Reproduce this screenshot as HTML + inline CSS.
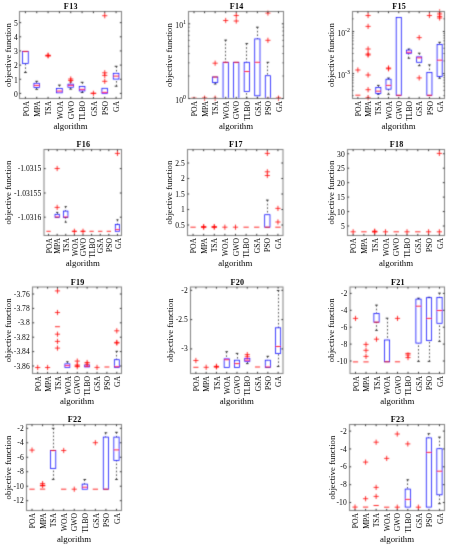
<!DOCTYPE html>
<html><head><meta charset="utf-8"><title>Boxplots F13-F23</title>
<style>
html,body{margin:0;padding:0;background:#fff;}
body{width:455px;height:550px;overflow:hidden;}
svg{display:block;}
text{font-family:"Liberation Serif",serif;fill:#000;}
.tl{font-size:7.6px;}
.ex{font-size:5.9px;}
.lb{font-size:8.8px;}
.tt{font-size:8.1px;font-weight:bold;fill:#000;letter-spacing:0.35px;}
.ax{fill:none;stroke:#808080;stroke-width:1;}
.tk{fill:none;stroke:#202020;stroke-width:1;}
.bx{fill:none;stroke:#0000ff;stroke-width:0.75;}
.md{stroke:#ff0000;stroke-width:0.85;}
.pl{fill:none;stroke:#ff0000;stroke-width:0.8;}
.wh{stroke:#383838;stroke-width:0.9;stroke-dasharray:1.6 2.0;}
.cap{stroke:#000;stroke-width:0.8;}
</style></head>
<body><svg width="455" height="550" viewBox="0 0 455 550">
<defs><filter id="sf" x="0" y="0" width="455" height="550" filterUnits="userSpaceOnUse"><feConvolveMatrix order="3" kernelMatrix="0.03 0.1 0.03 0.1 0.48 0.1 0.03 0.1 0.03" divisor="1" edgeMode="none"/></filter><filter id="tf" x="0" y="0" width="455" height="550" filterUnits="userSpaceOnUse"><feConvolveMatrix order="3" kernelMatrix="0 0.02 0 0.02 0.92 0.02 0 0.02 0" divisor="1" edgeMode="none"/></filter></defs>
<rect width="455" height="550" fill="#fff"/>
<g filter="url(#sf)"><line x1="25.5" y1="72.5" x2="25.5" y2="63.4" class="wh"/>
<line x1="24" y1="72.5" x2="26.83" y2="72.5" class="cap"/>
<rect x="22.58" y="51.4" width="5.67" height="12" class="bx"/>
<line x1="22.58" y1="51.4" x2="28.25" y2="51.4" class="md"/>
<line x1="36.5" y1="81.3" x2="36.5" y2="83.3" class="wh"/>
<line x1="35.33" y1="81.3" x2="38.17" y2="81.3" class="cap"/>
<line x1="36.5" y1="89.3" x2="36.5" y2="87.6" class="wh"/>
<line x1="35.33" y1="89.3" x2="38.17" y2="89.3" class="cap"/>
<rect x="33.92" y="83.3" width="5.67" height="4.3" class="bx"/>
<line x1="33.92" y1="85.4" x2="39.58" y2="85.4" class="md"/>
<line x1="45.25" y1="55.8" x2="50.92" y2="55.8" class="md"/>
<path d="M45.48 55.8h5.2M48.08 53.2v5.2" class="pl"/>
<path d="M45.48 55.2h5.2M48.08 52.6v5.2" class="pl"/>
<line x1="59.5" y1="85.1" x2="59.5" y2="88.6" class="wh"/>
<line x1="58" y1="85.1" x2="60.83" y2="85.1" class="cap"/>
<rect x="56.58" y="88.6" width="5.67" height="4.2" class="bx"/>
<line x1="56.58" y1="91.1" x2="62.25" y2="91.1" class="md"/>
<line x1="70.5" y1="82" x2="70.5" y2="84.2" class="wh"/>
<line x1="69.33" y1="82" x2="72.17" y2="82" class="cap"/>
<line x1="70.5" y1="89.1" x2="70.5" y2="87.2" class="wh"/>
<line x1="69.33" y1="89.1" x2="72.17" y2="89.1" class="cap"/>
<rect x="67.92" y="84.2" width="5.67" height="3" class="bx"/>
<line x1="67.92" y1="85.4" x2="73.58" y2="85.4" class="md"/>
<path d="M68.15 79h5.2M70.75 76.4v5.2" class="pl"/>
<path d="M68.15 80.5h5.2M70.75 77.9v5.2" class="pl"/>
<line x1="82.5" y1="82.3" x2="82.5" y2="86.6" class="wh"/>
<line x1="80.67" y1="82.3" x2="83.5" y2="82.3" class="cap"/>
<line x1="82.5" y1="92.5" x2="82.5" y2="90.9" class="wh"/>
<line x1="80.67" y1="92.5" x2="83.5" y2="92.5" class="cap"/>
<rect x="79.25" y="86.6" width="5.67" height="4.3" class="bx"/>
<line x1="79.25" y1="89.4" x2="84.92" y2="89.4" class="md"/>
<line x1="90.58" y1="93.3" x2="96.25" y2="93.3" class="md"/>
<path d="M90.82 93.3h5.2M93.42 90.7v5.2" class="pl"/>
<rect x="101.92" y="88.3" width="5.67" height="5.1" class="bx"/>
<line x1="101.92" y1="92.4" x2="107.58" y2="92.4" class="md"/>
<path d="M102.15 15.7h5.2M104.75 13.1v5.2" class="pl"/>
<path d="M102.15 72.8h5.2M104.75 70.2v5.2" class="pl"/>
<path d="M102.15 75.4h5.2M104.75 72.8v5.2" class="pl"/>
<path d="M102.15 81.3h5.2M104.75 78.7v5.2" class="pl"/>
<line x1="116.5" y1="66.3" x2="116.5" y2="73.3" class="wh"/>
<line x1="114.67" y1="66.3" x2="117.5" y2="66.3" class="cap"/>
<line x1="116.5" y1="86.2" x2="116.5" y2="79.1" class="wh"/>
<line x1="114.67" y1="86.2" x2="117.5" y2="86.2" class="cap"/>
<rect x="113.25" y="73.3" width="5.67" height="5.8" class="bx"/>
<line x1="113.25" y1="76.1" x2="118.92" y2="76.1" class="md"/>
<rect x="19.5" y="11.5" width="102" height="87" class="ax"/>
<path d="M25.42 11.5v1.6M25.42 98.5v-1.6M36.75 11.5v1.6M36.75 98.5v-1.6M48.08 11.5v1.6M48.08 98.5v-1.6M59.42 11.5v1.6M59.42 98.5v-1.6M70.75 11.5v1.6M70.75 98.5v-1.6M82.08 11.5v1.6M82.08 98.5v-1.6M93.42 11.5v1.6M93.42 98.5v-1.6M104.75 11.5v1.6M104.75 98.5v-1.6M116.08 11.5v1.6M116.08 98.5v-1.6M19.5 93.4h1.6M121.5 93.4h-1.6M19.5 79.25h1.6M121.5 79.25h-1.6M19.5 65.1h1.6M121.5 65.1h-1.6M19.5 50.95h1.6M121.5 50.95h-1.6M19.5 36.8h1.6M121.5 36.8h-1.6M19.5 22.65h1.6M121.5 22.65h-1.6" class="tk"/>
<line x1="191.39" y1="98" x2="196.67" y2="98" class="md"/>
<line x1="201.94" y1="98" x2="207.22" y2="98" class="md"/>
<path d="M201.98 98.2h5.2M204.58 95.6v5.2" class="pl"/>
<line x1="215.5" y1="84" x2="215.5" y2="82.4" class="wh"/>
<line x1="213.82" y1="84" x2="216.46" y2="84" class="cap"/>
<rect x="212.5" y="77" width="5.28" height="5.4" class="bx"/>
<line x1="212.5" y1="77" x2="217.78" y2="77" class="md"/>
<path d="M212.54 63.2h5.2M215.14 60.6v5.2" class="pl"/>
<path d="M212.54 98.2h5.2M215.14 95.6v5.2" class="pl"/>
<line x1="225.5" y1="40.1" x2="225.5" y2="62.3" class="wh"/>
<line x1="224.38" y1="40.1" x2="227.01" y2="40.1" class="cap"/>
<rect x="223.06" y="62.3" width="5.28" height="36" class="bx"/>
<line x1="223.06" y1="62.3" x2="228.33" y2="62.3" class="md"/>
<path d="M223.09 20.5h5.2M225.69 17.9v5.2" class="pl"/>
<rect x="233.61" y="62.3" width="5.28" height="36" class="bx"/>
<line x1="233.61" y1="62.3" x2="238.89" y2="62.3" class="md"/>
<path d="M233.65 15.5h5.2M236.25 12.9v5.2" class="pl"/>
<path d="M233.65 21h5.2M236.25 18.4v5.2" class="pl"/>
<line x1="246.5" y1="43.6" x2="246.5" y2="62.3" class="wh"/>
<line x1="245.49" y1="43.6" x2="248.12" y2="43.6" class="cap"/>
<line x1="246.5" y1="98.3" x2="246.5" y2="91.6" class="wh"/>
<line x1="245.49" y1="98.3" x2="248.12" y2="98.3" class="cap"/>
<rect x="244.17" y="62.3" width="5.28" height="29.3" class="bx"/>
<line x1="244.17" y1="71.5" x2="249.44" y2="71.5" class="md"/>
<line x1="257.5" y1="27.2" x2="257.5" y2="38.9" class="wh"/>
<line x1="256.04" y1="27.2" x2="258.68" y2="27.2" class="cap"/>
<line x1="257.5" y1="98.3" x2="257.5" y2="95.8" class="wh"/>
<line x1="256.04" y1="98.3" x2="258.68" y2="98.3" class="cap"/>
<rect x="254.72" y="38.9" width="5.28" height="56.9" class="bx"/>
<line x1="254.72" y1="62.3" x2="260" y2="62.3" class="md"/>
<line x1="267.5" y1="62.3" x2="267.5" y2="75.7" class="wh"/>
<line x1="266.6" y1="62.3" x2="269.24" y2="62.3" class="cap"/>
<rect x="265.28" y="75.7" width="5.28" height="22.6" class="bx"/>
<line x1="265.28" y1="98.3" x2="270.56" y2="98.3" class="md"/>
<path d="M265.32 13h5.2M267.92 10.4v5.2" class="pl"/>
<path d="M265.32 40.3h5.2M267.92 37.7v5.2" class="pl"/>
<line x1="275.83" y1="98" x2="281.11" y2="98" class="md"/>
<path d="M275.87 98.2h5.2M278.47 95.6v5.2" class="pl"/>
<rect x="188.5" y="11.5" width="95" height="87" class="ax"/>
<path d="M194.03 11.5v1.6M194.03 98.5v-1.6M204.58 11.5v1.6M204.58 98.5v-1.6M215.14 11.5v1.6M215.14 98.5v-1.6M225.69 11.5v1.6M225.69 98.5v-1.6M236.25 11.5v1.6M236.25 98.5v-1.6M246.81 11.5v1.6M246.81 98.5v-1.6M257.36 11.5v1.6M257.36 98.5v-1.6M267.92 11.5v1.6M267.92 98.5v-1.6M278.47 11.5v1.6M278.47 98.5v-1.6M188.5 98.5h1.6M283.5 98.5h-1.6M188.5 23.8h1.6M283.5 23.8h-1.6M188.5 76.01h0.96M283.5 76.01h-0.96M188.5 62.86h0.96M283.5 62.86h-0.96M188.5 53.53h0.96M283.5 53.53h-0.96M188.5 46.29h0.96M283.5 46.29h-0.96M188.5 40.37h0.96M283.5 40.37h-0.96M188.5 35.37h0.96M283.5 35.37h-0.96M188.5 31.04h0.96M283.5 31.04h-0.96M188.5 27.22h0.96M283.5 27.22h-0.96" class="tk"/>
<line x1="355.31" y1="95.2" x2="360.42" y2="95.2" class="md"/>
<path d="M355.26 70h5.2M357.86 67.4v5.2" class="pl"/>
<path d="M365.48 15.5h5.2M368.08 12.9v5.2" class="pl"/>
<path d="M365.48 26.4h5.2M368.08 23.8v5.2" class="pl"/>
<path d="M365.48 49h5.2M368.08 46.4v5.2" class="pl"/>
<path d="M365.48 54h5.2M368.08 51.4v5.2" class="pl"/>
<path d="M365.48 55h5.2M368.08 52.4v5.2" class="pl"/>
<path d="M365.48 75h5.2M368.08 72.4v5.2" class="pl"/>
<path d="M365.48 89.7h5.2M368.08 87.1v5.2" class="pl"/>
<path d="M365.48 97.6h5.2M368.08 95v5.2" class="pl"/>
<line x1="378.5" y1="85.4" x2="378.5" y2="87.6" class="wh"/>
<line x1="377.03" y1="85.4" x2="379.58" y2="85.4" class="cap"/>
<line x1="378.5" y1="94.3" x2="378.5" y2="93.4" class="wh"/>
<line x1="377.03" y1="94.3" x2="379.58" y2="94.3" class="cap"/>
<rect x="375.75" y="87.6" width="5.11" height="5.8" class="bx"/>
<line x1="375.75" y1="91.2" x2="380.86" y2="91.2" class="md"/>
<line x1="388.5" y1="78" x2="388.5" y2="79.2" class="wh"/>
<line x1="387.25" y1="78" x2="389.81" y2="78" class="cap"/>
<line x1="388.5" y1="94.3" x2="388.5" y2="89.2" class="wh"/>
<line x1="387.25" y1="94.3" x2="389.81" y2="94.3" class="cap"/>
<rect x="385.97" y="79.2" width="5.11" height="10" class="bx"/>
<line x1="385.97" y1="85.4" x2="391.08" y2="85.4" class="md"/>
<path d="M385.93 68h5.2M388.53 65.4v5.2" class="pl"/>
<path d="M385.93 68.8h5.2M388.53 66.2v5.2" class="pl"/>
<rect x="396.19" y="17.5" width="5.11" height="77.8" class="bx"/>
<line x1="396.19" y1="95.3" x2="401.31" y2="95.3" class="md"/>
<line x1="408.5" y1="49" x2="408.5" y2="50.1" class="wh"/>
<line x1="407.69" y1="49" x2="410.25" y2="49" class="cap"/>
<line x1="408.5" y1="58.2" x2="408.5" y2="53.5" class="wh"/>
<line x1="407.69" y1="58.2" x2="410.25" y2="58.2" class="cap"/>
<rect x="406.42" y="50.1" width="5.11" height="3.4" class="bx"/>
<line x1="406.42" y1="52.3" x2="411.53" y2="52.3" class="md"/>
<line x1="419.5" y1="53.2" x2="419.5" y2="56.8" class="wh"/>
<line x1="417.92" y1="53.2" x2="420.47" y2="53.2" class="cap"/>
<line x1="419.5" y1="65.7" x2="419.5" y2="62.3" class="wh"/>
<line x1="417.92" y1="65.7" x2="420.47" y2="65.7" class="cap"/>
<rect x="416.64" y="56.8" width="5.11" height="5.5" class="bx"/>
<line x1="416.64" y1="57.8" x2="421.75" y2="57.8" class="md"/>
<path d="M416.59 37.6h5.2M419.19 35v5.2" class="pl"/>
<path d="M416.59 77.9h5.2M419.19 75.3v5.2" class="pl"/>
<line x1="429.5" y1="64.9" x2="429.5" y2="72.4" class="wh"/>
<line x1="428.14" y1="64.9" x2="430.69" y2="64.9" class="cap"/>
<rect x="426.86" y="72.4" width="5.11" height="22.9" class="bx"/>
<line x1="426.86" y1="95.3" x2="431.97" y2="95.3" class="md"/>
<path d="M426.82 15.5h5.2M429.42 12.9v5.2" class="pl"/>
<line x1="439.5" y1="42.3" x2="439.5" y2="44.5" class="wh"/>
<line x1="438.36" y1="42.3" x2="440.92" y2="42.3" class="cap"/>
<line x1="439.5" y1="78.2" x2="439.5" y2="76.6" class="wh"/>
<line x1="438.36" y1="78.2" x2="440.92" y2="78.2" class="cap"/>
<rect x="437.08" y="44.5" width="5.11" height="32.1" class="bx"/>
<line x1="437.08" y1="60.2" x2="442.19" y2="60.2" class="md"/>
<path d="M437.04 11.9h5.2M439.64 9.3v5.2" class="pl"/>
<path d="M437.04 14h5.2M439.64 11.4v5.2" class="pl"/>
<path d="M437.04 16.4h5.2M439.64 13.8v5.2" class="pl"/>
<path d="M437.04 18h5.2M439.64 15.4v5.2" class="pl"/>
<rect x="352.5" y="11.5" width="92" height="87" class="ax"/>
<path d="M357.86 11.5v1.6M357.86 98.5v-1.6M368.08 11.5v1.6M368.08 98.5v-1.6M378.31 11.5v1.6M378.31 98.5v-1.6M388.53 11.5v1.6M388.53 98.5v-1.6M398.75 11.5v1.6M398.75 98.5v-1.6M408.97 11.5v1.6M408.97 98.5v-1.6M419.19 11.5v1.6M419.19 98.5v-1.6M429.42 11.5v1.6M429.42 98.5v-1.6M439.64 11.5v1.6M439.64 98.5v-1.6M352.5 31.5h1.6M444.5 31.5h-1.6M352.5 73.6h1.6M444.5 73.6h-1.6M352.5 95.61h0.96M444.5 95.61h-0.96M352.5 90.35h0.96M444.5 90.35h-0.96M352.5 86.27h0.96M444.5 86.27h-0.96M352.5 82.94h0.96M444.5 82.94h-0.96M352.5 80.12h0.96M444.5 80.12h-0.96M352.5 77.68h0.96M444.5 77.68h-0.96M352.5 75.53h0.96M444.5 75.53h-0.96M352.5 60.93h0.96M444.5 60.93h-0.96M352.5 53.51h0.96M444.5 53.51h-0.96M352.5 48.25h0.96M444.5 48.25h-0.96M352.5 44.17h0.96M444.5 44.17h-0.96M352.5 40.84h0.96M444.5 40.84h-0.96M352.5 38.02h0.96M444.5 38.02h-0.96M352.5 35.58h0.96M444.5 35.58h-0.96M352.5 33.43h0.96M444.5 33.43h-0.96M352.5 18.83h0.96M444.5 18.83h-0.96" class="tk"/>
<line x1="46.4" y1="231.3" x2="50.71" y2="231.3" class="md"/>
<path d="M54.57 168.5h5.2M57.17 165.9v5.2" class="pl"/>
<path d="M54.57 207.4h5.2M57.17 204.8v5.2" class="pl"/>
<line x1="57.5" y1="212.4" x2="57.5" y2="214.3" class="wh"/>
<line x1="56.09" y1="212.4" x2="58.24" y2="212.4" class="cap"/>
<rect x="55.01" y="214.3" width="4.31" height="3.1" class="bx"/>
<line x1="55.01" y1="217" x2="59.32" y2="217" class="md"/>
<line x1="65.5" y1="206.6" x2="65.5" y2="211.1" class="wh"/>
<line x1="64.7" y1="206.6" x2="66.85" y2="206.6" class="cap"/>
<line x1="65.5" y1="222.2" x2="65.5" y2="217.4" class="wh"/>
<line x1="64.7" y1="222.2" x2="66.85" y2="222.2" class="cap"/>
<rect x="63.62" y="211.1" width="4.31" height="6.3" class="bx"/>
<line x1="63.62" y1="217" x2="67.93" y2="217" class="md"/>
<path d="M71.79 231.3h5.2M74.39 228.7v5.2" class="pl"/>
<line x1="72.24" y1="231.3" x2="76.54" y2="231.3" class="md"/>
<path d="M80.4 231.3h5.2M83 228.7v5.2" class="pl"/>
<line x1="80.85" y1="231.3" x2="85.15" y2="231.3" class="md"/>
<line x1="89.46" y1="231.3" x2="93.76" y2="231.3" class="md"/>
<line x1="98.07" y1="231.3" x2="102.38" y2="231.3" class="md"/>
<line x1="106.68" y1="231.3" x2="110.99" y2="231.3" class="md"/>
<line x1="117.5" y1="219.8" x2="117.5" y2="224.5" class="wh"/>
<line x1="116.37" y1="219.8" x2="118.52" y2="219.8" class="cap"/>
<rect x="115.29" y="224.5" width="4.31" height="6.8" class="bx"/>
<line x1="115.29" y1="229.6" x2="119.6" y2="229.6" class="md"/>
<path d="M114.84 153.4h5.2M117.44 150.8v5.2" class="pl"/>
<rect x="44" y="149.5" width="77.5" height="86" class="ax"/>
<path d="M48.56 149.5v1.6M48.56 235.5v-1.6M57.17 149.5v1.6M57.17 235.5v-1.6M65.78 149.5v1.6M65.78 235.5v-1.6M74.39 149.5v1.6M74.39 235.5v-1.6M83 149.5v1.6M83 235.5v-1.6M91.61 149.5v1.6M91.61 235.5v-1.6M100.22 149.5v1.6M100.22 235.5v-1.6M108.83 149.5v1.6M108.83 235.5v-1.6M117.44 149.5v1.6M117.44 235.5v-1.6M44 168.6h1.6M121.5 168.6h-1.6M44 193h1.6M121.5 193h-1.6M44 217.2h1.6M121.5 217.2h-1.6" class="tk"/>
<line x1="190.4" y1="227.2" x2="195.71" y2="227.2" class="md"/>
<line x1="201.01" y1="227.2" x2="206.32" y2="227.2" class="md"/>
<path d="M201.07 227.2h5.2M203.67 224.6v5.2" class="pl"/>
<path d="M201.07 226.6h5.2M203.67 224v5.2" class="pl"/>
<line x1="211.62" y1="227.2" x2="216.93" y2="227.2" class="md"/>
<path d="M211.68 227.2h5.2M214.28 224.6v5.2" class="pl"/>
<path d="M211.68 226.6h5.2M214.28 224v5.2" class="pl"/>
<path d="M222.29 227.2h5.2M224.89 224.6v5.2" class="pl"/>
<path d="M232.9 227.2h5.2M235.5 224.6v5.2" class="pl"/>
<line x1="243.46" y1="227.2" x2="248.76" y2="227.2" class="md"/>
<line x1="254.07" y1="227.2" x2="259.38" y2="227.2" class="md"/>
<line x1="267.5" y1="200.1" x2="267.5" y2="214.7" class="wh"/>
<line x1="266.01" y1="200.1" x2="268.66" y2="200.1" class="cap"/>
<rect x="264.68" y="214.7" width="5.31" height="12.5" class="bx"/>
<line x1="264.68" y1="227.2" x2="269.99" y2="227.2" class="md"/>
<path d="M264.73 153.4h5.2M267.33 150.8v5.2" class="pl"/>
<path d="M264.73 171.8h5.2M267.33 169.2v5.2" class="pl"/>
<path d="M264.73 175.5h5.2M267.33 172.9v5.2" class="pl"/>
<line x1="275.29" y1="227.2" x2="280.6" y2="227.2" class="md"/>
<path d="M275.34 208.4h5.2M277.94 205.8v5.2" class="pl"/>
<path d="M275.34 222h5.2M277.94 219.4v5.2" class="pl"/>
<rect x="187.5" y="149.5" width="95.5" height="86" class="ax"/>
<path d="M193.06 149.5v1.6M193.06 235.5v-1.6M203.67 149.5v1.6M203.67 235.5v-1.6M214.28 149.5v1.6M214.28 235.5v-1.6M224.89 149.5v1.6M224.89 235.5v-1.6M235.5 149.5v1.6M235.5 235.5v-1.6M246.11 149.5v1.6M246.11 235.5v-1.6M256.72 149.5v1.6M256.72 235.5v-1.6M267.33 149.5v1.6M267.33 235.5v-1.6M277.94 149.5v1.6M277.94 235.5v-1.6M187.5 225h1.6M283 225h-1.6M187.5 209.5h1.6M283 209.5h-1.6M187.5 194h1.6M283 194h-1.6M187.5 178.5h1.6M283 178.5h-1.6M187.5 163h1.6M283 163h-1.6" class="tk"/>
<path d="M350.54 231.8h5.2M353.14 229.2v5.2" class="pl"/>
<line x1="361.22" y1="231.8" x2="366.61" y2="231.8" class="md"/>
<line x1="372" y1="231.8" x2="377.39" y2="231.8" class="md"/>
<path d="M372.09 231.8h5.2M374.69 229.2v5.2" class="pl"/>
<path d="M372.09 231.2h5.2M374.69 228.6v5.2" class="pl"/>
<path d="M382.87 231.8h5.2M385.47 229.2v5.2" class="pl"/>
<line x1="393.56" y1="231.8" x2="398.94" y2="231.8" class="md"/>
<path d="M404.43 231.8h5.2M407.03 229.2v5.2" class="pl"/>
<line x1="415.11" y1="231.8" x2="420.5" y2="231.8" class="md"/>
<path d="M425.98 231.8h5.2M428.58 229.2v5.2" class="pl"/>
<path d="M436.76 231.8h5.2M439.36 229.2v5.2" class="pl"/>
<path d="M436.76 153.4h5.2M439.36 150.8v5.2" class="pl"/>
<rect x="347.5" y="149.5" width="97" height="86" class="ax"/>
<path d="M353.14 149.5v1.6M353.14 235.5v-1.6M363.92 149.5v1.6M363.92 235.5v-1.6M374.69 149.5v1.6M374.69 235.5v-1.6M385.47 149.5v1.6M385.47 235.5v-1.6M396.25 149.5v1.6M396.25 235.5v-1.6M407.03 149.5v1.6M407.03 235.5v-1.6M417.81 149.5v1.6M417.81 235.5v-1.6M428.58 149.5v1.6M428.58 235.5v-1.6M439.36 149.5v1.6M439.36 235.5v-1.6M347.5 226h1.6M444.5 226h-1.6M347.5 211.55h1.6M444.5 211.55h-1.6M347.5 197.1h1.6M444.5 197.1h-1.6M347.5 182.65h1.6M444.5 182.65h-1.6M347.5 168.2h1.6M444.5 168.2h-1.6M347.5 153.75h1.6M444.5 153.75h-1.6" class="tk"/>
<path d="M35.09 367.5h5.2M37.69 364.9v5.2" class="pl"/>
<path d="M44.98 367.5h5.2M47.58 364.9v5.2" class="pl"/>
<path d="M54.87 290.9h5.2M57.47 288.3v5.2" class="pl"/>
<path d="M54.87 312.5h5.2M57.47 309.9v5.2" class="pl"/>
<line x1="55" y1="326.7" x2="59.94" y2="326.7" class="md"/>
<path d="M54.87 334.2h5.2M57.47 331.6v5.2" class="pl"/>
<path d="M54.87 341.4h5.2M57.47 338.8v5.2" class="pl"/>
<path d="M54.87 348.1h5.2M57.47 345.5v5.2" class="pl"/>
<line x1="67.5" y1="361.8" x2="67.5" y2="363.9" class="wh"/>
<line x1="66.12" y1="361.8" x2="68.6" y2="361.8" class="cap"/>
<rect x="64.89" y="363.9" width="4.94" height="3.5" class="bx"/>
<line x1="64.89" y1="365.6" x2="69.83" y2="365.6" class="md"/>
<path d="M74.65 361.1h5.2M77.25 358.5v5.2" class="pl"/>
<path d="M74.65 365h5.2M77.25 362.4v5.2" class="pl"/>
<path d="M74.65 366.7h5.2M77.25 364.1v5.2" class="pl"/>
<line x1="74.78" y1="366" x2="79.72" y2="366" class="md"/>
<rect x="84.67" y="365" width="4.94" height="2" class="bx"/>
<line x1="84.67" y1="366.4" x2="89.61" y2="366.4" class="md"/>
<path d="M84.54 362.5h5.2M87.14 359.9v5.2" class="pl"/>
<path d="M84.54 364.2h5.2M87.14 361.6v5.2" class="pl"/>
<path d="M94.43 367.4h5.2M97.03 364.8v5.2" class="pl"/>
<line x1="104.44" y1="367" x2="109.39" y2="367" class="md"/>
<line x1="116.5" y1="351.3" x2="116.5" y2="359.7" class="wh"/>
<line x1="115.57" y1="351.3" x2="118.04" y2="351.3" class="cap"/>
<rect x="114.33" y="359.7" width="4.94" height="7.7" class="bx"/>
<line x1="114.33" y1="366.7" x2="119.28" y2="366.7" class="md"/>
<path d="M114.21 330.8h5.2M116.81 328.2v5.2" class="pl"/>
<path d="M114.21 342.4h5.2M116.81 339.8v5.2" class="pl"/>
<path d="M114.21 343h5.2M116.81 340.4v5.2" class="pl"/>
<rect x="32.5" y="287" width="89" height="86.5" class="ax"/>
<path d="M37.69 287v1.6M37.69 373.5v-1.6M47.58 287v1.6M47.58 373.5v-1.6M57.47 287v1.6M57.47 373.5v-1.6M67.36 287v1.6M67.36 373.5v-1.6M77.25 287v1.6M77.25 373.5v-1.6M87.14 287v1.6M87.14 373.5v-1.6M97.03 287v1.6M97.03 373.5v-1.6M106.92 287v1.6M106.92 373.5v-1.6M116.81 287v1.6M116.81 373.5v-1.6M32.5 294h1.6M121.5 294h-1.6M32.5 308.4h1.6M121.5 308.4h-1.6M32.5 322.8h1.6M121.5 322.8h-1.6M32.5 337.2h1.6M121.5 337.2h-1.6M32.5 351.6h1.6M121.5 351.6h-1.6M32.5 366h1.6M121.5 366h-1.6" class="tk"/>
<path d="M193.29 360.5h5.2M195.89 357.9v5.2" class="pl"/>
<line x1="193.32" y1="367.3" x2="198.46" y2="367.3" class="md"/>
<path d="M203.57 367.3h5.2M206.17 364.7v5.2" class="pl"/>
<line x1="213.88" y1="366.9" x2="219.01" y2="366.9" class="md"/>
<path d="M213.84 366.9h5.2M216.44 364.3v5.2" class="pl"/>
<path d="M213.84 366.3h5.2M216.44 363.7v5.2" class="pl"/>
<line x1="226.5" y1="351.7" x2="226.5" y2="358.8" class="wh"/>
<line x1="225.44" y1="351.7" x2="228.01" y2="351.7" class="cap"/>
<rect x="224.15" y="358.8" width="5.14" height="8.6" class="bx"/>
<line x1="224.15" y1="359.7" x2="229.29" y2="359.7" class="md"/>
<line x1="237.5" y1="353.4" x2="237.5" y2="360.2" class="wh"/>
<line x1="235.72" y1="353.4" x2="238.28" y2="353.4" class="cap"/>
<rect x="234.43" y="360.2" width="5.14" height="7.2" class="bx"/>
<line x1="234.43" y1="363.6" x2="239.57" y2="363.6" class="md"/>
<line x1="247.5" y1="363.6" x2="247.5" y2="361.4" class="wh"/>
<line x1="245.99" y1="363.6" x2="248.56" y2="363.6" class="cap"/>
<rect x="244.71" y="358.5" width="5.14" height="2.9" class="bx"/>
<line x1="244.71" y1="360.2" x2="249.85" y2="360.2" class="md"/>
<path d="M244.68 354.6h5.2M247.28 352v5.2" class="pl"/>
<path d="M244.68 356.8h5.2M247.28 354.2v5.2" class="pl"/>
<line x1="254.99" y1="367" x2="260.12" y2="367" class="md"/>
<line x1="267.5" y1="356.3" x2="267.5" y2="360.2" class="wh"/>
<line x1="266.55" y1="356.3" x2="269.12" y2="356.3" class="cap"/>
<rect x="265.26" y="360.2" width="5.14" height="7.2" class="bx"/>
<line x1="265.26" y1="367" x2="270.4" y2="367" class="md"/>
<line x1="278.5" y1="290.5" x2="278.5" y2="327.8" class="wh"/>
<line x1="276.83" y1="290.5" x2="279.4" y2="290.5" class="cap"/>
<line x1="278.5" y1="366.5" x2="278.5" y2="353.4" class="wh"/>
<line x1="276.83" y1="366.5" x2="279.4" y2="366.5" class="cap"/>
<rect x="275.54" y="327.8" width="5.14" height="25.6" class="bx"/>
<line x1="275.54" y1="346.5" x2="280.68" y2="346.5" class="md"/>
<rect x="190.5" y="287" width="92.5" height="86.5" class="ax"/>
<path d="M195.89 287v1.6M195.89 373.5v-1.6M206.17 287v1.6M206.17 373.5v-1.6M216.44 287v1.6M216.44 373.5v-1.6M226.72 287v1.6M226.72 373.5v-1.6M237 287v1.6M237 373.5v-1.6M247.28 287v1.6M247.28 373.5v-1.6M257.56 287v1.6M257.56 373.5v-1.6M267.83 287v1.6M267.83 373.5v-1.6M278.11 287v1.6M278.11 373.5v-1.6M190.5 290.3h1.6M283 290.3h-1.6M190.5 319.6h1.6M283 319.6h-1.6M190.5 348.9h1.6M283 348.9h-1.6" class="tk"/>
<path d="M352.9 318.4h5.2M355.5 315.8v5.2" class="pl"/>
<line x1="352.88" y1="361.9" x2="358.12" y2="361.9" class="md"/>
<path d="M363.4 344.4h5.2M366 341.8v5.2" class="pl"/>
<path d="M363.4 350.3h5.2M366 347.7v5.2" class="pl"/>
<path d="M363.4 356.4h5.2M366 353.8v5.2" class="pl"/>
<line x1="363.38" y1="361.9" x2="368.62" y2="361.9" class="md"/>
<line x1="376.5" y1="305.1" x2="376.5" y2="313.4" class="wh"/>
<line x1="375.19" y1="305.1" x2="377.81" y2="305.1" class="cap"/>
<line x1="376.5" y1="330.4" x2="376.5" y2="322.2" class="wh"/>
<line x1="375.19" y1="330.4" x2="377.81" y2="330.4" class="cap"/>
<rect x="373.88" y="313.4" width="5.25" height="8.8" class="bx"/>
<line x1="373.88" y1="322.2" x2="379.12" y2="322.2" class="md"/>
<path d="M373.9 339.2h5.2M376.5 336.6v5.2" class="pl"/>
<line x1="387.5" y1="318.2" x2="387.5" y2="340" class="wh"/>
<line x1="385.69" y1="318.2" x2="388.31" y2="318.2" class="cap"/>
<rect x="384.38" y="340" width="5.25" height="21.8" class="bx"/>
<line x1="384.38" y1="361.8" x2="389.62" y2="361.8" class="md"/>
<path d="M394.9 318.4h5.2M397.5 315.8v5.2" class="pl"/>
<line x1="394.88" y1="361.8" x2="400.12" y2="361.8" class="md"/>
<line x1="405.38" y1="353.4" x2="410.62" y2="353.4" class="md"/>
<path d="M405.4 355h5.2M408 352.4v5.2" class="pl"/>
<path d="M405.4 357.6h5.2M408 355v5.2" class="pl"/>
<line x1="418.5" y1="298.2" x2="418.5" y2="299.1" class="wh"/>
<line x1="417.19" y1="298.2" x2="419.81" y2="298.2" class="cap"/>
<line x1="418.5" y1="361.4" x2="418.5" y2="343.1" class="wh"/>
<line x1="417.19" y1="361.4" x2="419.81" y2="361.4" class="cap"/>
<rect x="415.88" y="299.1" width="5.25" height="44" class="bx"/>
<line x1="415.88" y1="306.2" x2="421.12" y2="306.2" class="md"/>
<line x1="429.5" y1="297.3" x2="429.5" y2="297.7" class="wh"/>
<line x1="427.69" y1="297.3" x2="430.31" y2="297.3" class="cap"/>
<line x1="429.5" y1="361.4" x2="429.5" y2="340.4" class="wh"/>
<line x1="427.69" y1="361.4" x2="430.31" y2="361.4" class="cap"/>
<rect x="426.38" y="297.7" width="5.25" height="42.7" class="bx"/>
<line x1="426.38" y1="318.4" x2="431.62" y2="318.4" class="md"/>
<line x1="439.5" y1="293.1" x2="439.5" y2="297.4" class="wh"/>
<line x1="438.19" y1="293.1" x2="440.81" y2="293.1" class="cap"/>
<line x1="439.5" y1="341.4" x2="439.5" y2="323.3" class="wh"/>
<line x1="438.19" y1="341.4" x2="440.81" y2="341.4" class="cap"/>
<rect x="436.88" y="297.4" width="5.25" height="25.9" class="bx"/>
<line x1="436.88" y1="310.5" x2="442.12" y2="310.5" class="md"/>
<rect x="350" y="287" width="94.5" height="86.5" class="ax"/>
<path d="M355.5 287v1.6M355.5 373.5v-1.6M366 287v1.6M366 373.5v-1.6M376.5 287v1.6M376.5 373.5v-1.6M387 287v1.6M387 373.5v-1.6M397.5 287v1.6M397.5 373.5v-1.6M408 287v1.6M408 373.5v-1.6M418.5 287v1.6M418.5 373.5v-1.6M429 287v1.6M429 373.5v-1.6M439.5 287v1.6M439.5 373.5v-1.6M350 293.4h1.6M444.5 293.4h-1.6M350 310.3h1.6M444.5 310.3h-1.6M350 327.2h1.6M444.5 327.2h-1.6M350 344.1h1.6M444.5 344.1h-1.6M350 361h1.6M444.5 361h-1.6" class="tk"/>
<path d="M29.43 450.1h5.2M32.03 447.5v5.2" class="pl"/>
<line x1="29.39" y1="489.2" x2="34.67" y2="489.2" class="md"/>
<path d="M39.98 483.6h5.2M42.58 481v5.2" class="pl"/>
<path d="M39.98 485.4h5.2M42.58 482.8v5.2" class="pl"/>
<line x1="39.94" y1="485.4" x2="45.22" y2="485.4" class="md"/>
<line x1="39.94" y1="485.8" x2="45.22" y2="485.8" class="md"/>
<line x1="39.94" y1="489.1" x2="45.22" y2="489.1" class="md"/>
<line x1="53.5" y1="428.3" x2="53.5" y2="450.5" class="wh"/>
<line x1="51.82" y1="428.3" x2="54.46" y2="428.3" class="cap"/>
<line x1="53.5" y1="479.4" x2="53.5" y2="468.6" class="wh"/>
<line x1="51.82" y1="479.4" x2="54.46" y2="479.4" class="cap"/>
<rect x="50.5" y="450.5" width="5.28" height="18.1" class="bx"/>
<line x1="50.5" y1="450.5" x2="55.78" y2="450.5" class="md"/>
<path d="M61.09 450.5h5.2M63.69 447.9v5.2" class="pl"/>
<line x1="61.06" y1="489.2" x2="66.33" y2="489.2" class="md"/>
<path d="M71.65 489.2h5.2M74.25 486.6v5.2" class="pl"/>
<line x1="84.5" y1="479.5" x2="84.5" y2="484.1" class="wh"/>
<line x1="83.49" y1="479.5" x2="86.12" y2="479.5" class="cap"/>
<rect x="82.17" y="484.1" width="5.28" height="5.1" class="bx"/>
<line x1="82.17" y1="487.2" x2="87.44" y2="487.2" class="md"/>
<path d="M92.76 442.7h5.2M95.36 440.1v5.2" class="pl"/>
<line x1="92.72" y1="489.2" x2="98" y2="489.2" class="md"/>
<line x1="105.5" y1="432.8" x2="105.5" y2="437.1" class="wh"/>
<line x1="104.6" y1="432.8" x2="107.24" y2="432.8" class="cap"/>
<rect x="103.28" y="437.1" width="5.28" height="52.1" class="bx"/>
<line x1="103.28" y1="489.2" x2="108.56" y2="489.2" class="md"/>
<line x1="116.5" y1="432.3" x2="116.5" y2="437.1" class="wh"/>
<line x1="115.15" y1="432.3" x2="117.79" y2="432.3" class="cap"/>
<line x1="116.5" y1="479.5" x2="116.5" y2="460.5" class="wh"/>
<line x1="115.15" y1="479.5" x2="117.79" y2="479.5" class="cap"/>
<rect x="113.83" y="437.1" width="5.28" height="23.4" class="bx"/>
<line x1="113.83" y1="449.9" x2="119.11" y2="449.9" class="md"/>
<rect x="26.5" y="424.5" width="95" height="86" class="ax"/>
<path d="M32.03 424.5v1.6M32.03 510.5v-1.6M42.58 424.5v1.6M42.58 510.5v-1.6M53.14 424.5v1.6M53.14 510.5v-1.6M63.69 424.5v1.6M63.69 510.5v-1.6M74.25 424.5v1.6M74.25 510.5v-1.6M84.81 424.5v1.6M84.81 510.5v-1.6M95.36 424.5v1.6M95.36 510.5v-1.6M105.92 424.5v1.6M105.92 510.5v-1.6M116.47 424.5v1.6M116.47 510.5v-1.6M26.5 428.3h1.6M121.5 428.3h-1.6M26.5 442.78h1.6M121.5 442.78h-1.6M26.5 457.26h1.6M121.5 457.26h-1.6M26.5 471.74h1.6M121.5 471.74h-1.6M26.5 486.22h1.6M121.5 486.22h-1.6M26.5 500.7h1.6M121.5 500.7h-1.6" class="tk"/>
<path d="M352.43 507.1h5.2M355.03 504.5v5.2" class="pl"/>
<path d="M362.98 462.1h5.2M365.58 459.5v5.2" class="pl"/>
<path d="M362.98 498.7h5.2M365.58 496.1v5.2" class="pl"/>
<line x1="362.94" y1="507.1" x2="368.22" y2="507.1" class="md"/>
<path d="M373.54 442.2h5.2M376.14 439.6v5.2" class="pl"/>
<path d="M373.54 487.4h5.2M376.14 484.8v5.2" class="pl"/>
<path d="M373.54 496.4h5.2M376.14 493.8v5.2" class="pl"/>
<line x1="373.5" y1="505.5" x2="378.78" y2="505.5" class="md"/>
<path d="M384.09 458.4h5.2M386.69 455.8v5.2" class="pl"/>
<line x1="384.06" y1="507.2" x2="389.33" y2="507.2" class="md"/>
<path d="M394.65 434h5.2M397.25 431.4v5.2" class="pl"/>
<path d="M394.65 507.2h5.2M397.25 504.6v5.2" class="pl"/>
<path d="M405.21 443.9h5.2M407.81 441.3v5.2" class="pl"/>
<line x1="407.5" y1="479.8" x2="407.5" y2="489.1" class="wh"/>
<line x1="406.49" y1="479.8" x2="409.12" y2="479.8" class="cap"/>
<rect x="405.17" y="489.1" width="5.28" height="18" class="bx"/>
<line x1="405.17" y1="499.4" x2="410.44" y2="499.4" class="md"/>
<path d="M415.76 507.2h5.2M418.36 504.6v5.2" class="pl"/>
<line x1="428.5" y1="433.7" x2="428.5" y2="437.9" class="wh"/>
<line x1="427.6" y1="433.7" x2="430.24" y2="433.7" class="cap"/>
<rect x="426.28" y="437.9" width="5.28" height="69.2" class="bx"/>
<line x1="426.28" y1="452.4" x2="431.56" y2="452.4" class="md"/>
<line x1="439.5" y1="437.1" x2="439.5" y2="448.7" class="wh"/>
<line x1="438.15" y1="437.1" x2="440.79" y2="437.1" class="cap"/>
<line x1="439.5" y1="503.7" x2="439.5" y2="494.8" class="wh"/>
<line x1="438.15" y1="503.7" x2="440.79" y2="503.7" class="cap"/>
<rect x="436.83" y="448.7" width="5.28" height="46.1" class="bx"/>
<line x1="436.83" y1="471.2" x2="442.11" y2="471.2" class="md"/>
<rect x="349.5" y="424.5" width="95" height="86" class="ax"/>
<path d="M355.03 424.5v1.6M355.03 510.5v-1.6M365.58 424.5v1.6M365.58 510.5v-1.6M376.14 424.5v1.6M376.14 510.5v-1.6M386.69 424.5v1.6M386.69 510.5v-1.6M397.25 424.5v1.6M397.25 510.5v-1.6M407.81 424.5v1.6M407.81 510.5v-1.6M418.36 424.5v1.6M418.36 510.5v-1.6M428.92 424.5v1.6M428.92 510.5v-1.6M439.47 424.5v1.6M439.47 510.5v-1.6M349.5 431.1h1.6M444.5 431.1h-1.6M349.5 448.96h1.6M444.5 448.96h-1.6M349.5 466.82h1.6M444.5 466.82h-1.6M349.5 484.68h1.6M444.5 484.68h-1.6M349.5 502.54h1.6M444.5 502.54h-1.6" class="tk"/></g>
<g filter="url(#tf)"><text x="17.7" y="96.75" class="tl" text-anchor="end">0</text>
<text x="17.7" y="82.6" class="tl" text-anchor="end">1</text>
<text x="17.7" y="68.45" class="tl" text-anchor="end">2</text>
<text x="17.7" y="54.3" class="tl" text-anchor="end">3</text>
<text x="17.7" y="40.15" class="tl" text-anchor="end">4</text>
<text x="17.7" y="26" class="tl" text-anchor="end">5</text>
<text transform="translate(28.57 101) rotate(-90)" class="tl" text-anchor="end">POA</text>
<text transform="translate(39.9 101) rotate(-90)" class="tl" text-anchor="end">MPA</text>
<text transform="translate(51.23 101) rotate(-90)" class="tl" text-anchor="end">TSA</text>
<text transform="translate(62.57 101) rotate(-90)" class="tl" text-anchor="end">WOA</text>
<text transform="translate(73.9 101) rotate(-90)" class="tl" text-anchor="end">GWO</text>
<text transform="translate(85.23 101) rotate(-90)" class="tl" text-anchor="end">TLBO</text>
<text transform="translate(96.57 101) rotate(-90)" class="tl" text-anchor="end">GSA</text>
<text transform="translate(107.9 101) rotate(-90)" class="tl" text-anchor="end">PSO</text>
<text transform="translate(119.23 101) rotate(-90)" class="tl" text-anchor="end">GA</text>
<text x="70.9" y="9" class="tt" text-anchor="middle">F13</text>
<text x="70.5" y="128.7" class="lb" text-anchor="middle">algorithm</text>
<text transform="translate(11.4 55) rotate(-90)" class="lb" text-anchor="middle">objective function</text>
<text x="185.9" y="102.5" class="tl" text-anchor="end">10<tspan class="ex" dy="-3.9">0</tspan></text>
<text x="185.9" y="27.8" class="tl" text-anchor="end">10<tspan class="ex" dy="-3.9">1</tspan></text>
<text transform="translate(197.18 101) rotate(-90)" class="tl" text-anchor="end">POA</text>
<text transform="translate(207.73 101) rotate(-90)" class="tl" text-anchor="end">MPA</text>
<text transform="translate(218.29 101) rotate(-90)" class="tl" text-anchor="end">TSA</text>
<text transform="translate(228.84 101) rotate(-90)" class="tl" text-anchor="end">WOA</text>
<text transform="translate(239.4 101) rotate(-90)" class="tl" text-anchor="end">GWO</text>
<text transform="translate(249.96 101) rotate(-90)" class="tl" text-anchor="end">TLBO</text>
<text transform="translate(260.51 101) rotate(-90)" class="tl" text-anchor="end">GSA</text>
<text transform="translate(271.07 101) rotate(-90)" class="tl" text-anchor="end">PSO</text>
<text transform="translate(281.62 101) rotate(-90)" class="tl" text-anchor="end">GA</text>
<text x="236.7" y="9" class="tt" text-anchor="middle">F14</text>
<text x="236" y="128.7" class="lb" text-anchor="middle">algorithm</text>
<text transform="translate(172.4 55) rotate(-90)" class="lb" text-anchor="middle">objective function</text>
<text x="349.9" y="35.5" class="tl" text-anchor="end">10<tspan class="ex" dy="-3.9">-2</tspan></text>
<text x="349.9" y="77.6" class="tl" text-anchor="end">10<tspan class="ex" dy="-3.9">-3</tspan></text>
<text transform="translate(361.01 101) rotate(-90)" class="tl" text-anchor="end">POA</text>
<text transform="translate(371.23 101) rotate(-90)" class="tl" text-anchor="end">MPA</text>
<text transform="translate(381.46 101) rotate(-90)" class="tl" text-anchor="end">TSA</text>
<text transform="translate(391.68 101) rotate(-90)" class="tl" text-anchor="end">WOA</text>
<text transform="translate(401.9 101) rotate(-90)" class="tl" text-anchor="end">GWO</text>
<text transform="translate(412.12 101) rotate(-90)" class="tl" text-anchor="end">TLBO</text>
<text transform="translate(422.34 101) rotate(-90)" class="tl" text-anchor="end">GSA</text>
<text transform="translate(432.57 101) rotate(-90)" class="tl" text-anchor="end">PSO</text>
<text transform="translate(442.79 101) rotate(-90)" class="tl" text-anchor="end">GA</text>
<text x="399.2" y="9" class="tt" text-anchor="middle">F15</text>
<text x="398.5" y="128.7" class="lb" text-anchor="middle">algorithm</text>
<text transform="translate(334.3 55) rotate(-90)" class="lb" text-anchor="middle">objective function</text>
<text x="41.2" y="171.15" class="tl" text-anchor="end">-1.0315</text>
<text x="41.2" y="195.55" class="tl" text-anchor="end">-1.03155</text>
<text x="41.2" y="219.75" class="tl" text-anchor="end">-1.0316</text>
<text transform="translate(51.71 238) rotate(-90)" class="tl" text-anchor="end">POA</text>
<text transform="translate(60.32 238) rotate(-90)" class="tl" text-anchor="end">MPA</text>
<text transform="translate(68.93 238) rotate(-90)" class="tl" text-anchor="end">TSA</text>
<text transform="translate(77.54 238) rotate(-90)" class="tl" text-anchor="end">WOA</text>
<text transform="translate(86.15 238) rotate(-90)" class="tl" text-anchor="end">GWO</text>
<text transform="translate(94.76 238) rotate(-90)" class="tl" text-anchor="end">TLBO</text>
<text transform="translate(103.37 238) rotate(-90)" class="tl" text-anchor="end">GSA</text>
<text transform="translate(111.98 238) rotate(-90)" class="tl" text-anchor="end">PSO</text>
<text transform="translate(120.59 238) rotate(-90)" class="tl" text-anchor="end">GA</text>
<text x="83.45" y="147" class="tt" text-anchor="middle">F16</text>
<text x="82.75" y="265.7" class="lb" text-anchor="middle">algorithm</text>
<text transform="translate(10.8 192.5) rotate(-90)" class="lb" text-anchor="middle">objective function</text>
<text x="184.7" y="227.55" class="tl" text-anchor="end">0.5</text>
<text x="184.7" y="212.05" class="tl" text-anchor="end">1</text>
<text x="184.7" y="196.55" class="tl" text-anchor="end">1.5</text>
<text x="184.7" y="181.05" class="tl" text-anchor="end">2</text>
<text x="184.7" y="165.55" class="tl" text-anchor="end">2.5</text>
<text transform="translate(196.21 238) rotate(-90)" class="tl" text-anchor="end">POA</text>
<text transform="translate(206.82 238) rotate(-90)" class="tl" text-anchor="end">MPA</text>
<text transform="translate(217.43 238) rotate(-90)" class="tl" text-anchor="end">TSA</text>
<text transform="translate(228.04 238) rotate(-90)" class="tl" text-anchor="end">WOA</text>
<text transform="translate(238.65 238) rotate(-90)" class="tl" text-anchor="end">GWO</text>
<text transform="translate(249.26 238) rotate(-90)" class="tl" text-anchor="end">TLBO</text>
<text transform="translate(259.87 238) rotate(-90)" class="tl" text-anchor="end">GSA</text>
<text transform="translate(270.48 238) rotate(-90)" class="tl" text-anchor="end">PSO</text>
<text transform="translate(281.09 238) rotate(-90)" class="tl" text-anchor="end">GA</text>
<text x="235.95" y="147" class="tt" text-anchor="middle">F17</text>
<text x="235.25" y="265.7" class="lb" text-anchor="middle">algorithm</text>
<text transform="translate(172.4 192.5) rotate(-90)" class="lb" text-anchor="middle">objective function</text>
<text x="344.7" y="229.25" class="tl" text-anchor="end">5</text>
<text x="344.7" y="214.8" class="tl" text-anchor="end">10</text>
<text x="344.7" y="200.35" class="tl" text-anchor="end">15</text>
<text x="344.7" y="185.9" class="tl" text-anchor="end">20</text>
<text x="344.7" y="171.45" class="tl" text-anchor="end">25</text>
<text x="344.7" y="157" class="tl" text-anchor="end">30</text>
<text transform="translate(356.29 238) rotate(-90)" class="tl" text-anchor="end">POA</text>
<text transform="translate(367.07 238) rotate(-90)" class="tl" text-anchor="end">MPA</text>
<text transform="translate(377.84 238) rotate(-90)" class="tl" text-anchor="end">TSA</text>
<text transform="translate(388.62 238) rotate(-90)" class="tl" text-anchor="end">WOA</text>
<text transform="translate(399.4 238) rotate(-90)" class="tl" text-anchor="end">GWO</text>
<text transform="translate(410.18 238) rotate(-90)" class="tl" text-anchor="end">TLBO</text>
<text transform="translate(420.96 238) rotate(-90)" class="tl" text-anchor="end">GSA</text>
<text transform="translate(431.73 238) rotate(-90)" class="tl" text-anchor="end">PSO</text>
<text transform="translate(442.51 238) rotate(-90)" class="tl" text-anchor="end">GA</text>
<text x="396.7" y="147" class="tt" text-anchor="middle">F18</text>
<text x="396" y="265.7" class="lb" text-anchor="middle">algorithm</text>
<text transform="translate(334.4 192.5) rotate(-90)" class="lb" text-anchor="middle">objective function</text>
<text x="29.7" y="296.55" class="tl" text-anchor="end">-3.76</text>
<text x="29.7" y="310.95" class="tl" text-anchor="end">-3.78</text>
<text x="29.7" y="325.35" class="tl" text-anchor="end">-3.8</text>
<text x="29.7" y="339.75" class="tl" text-anchor="end">-3.82</text>
<text x="29.7" y="354.15" class="tl" text-anchor="end">-3.84</text>
<text x="29.7" y="368.55" class="tl" text-anchor="end">-3.86</text>
<text transform="translate(40.84 376) rotate(-90)" class="tl" text-anchor="end">POA</text>
<text transform="translate(50.73 376) rotate(-90)" class="tl" text-anchor="end">MPA</text>
<text transform="translate(60.62 376) rotate(-90)" class="tl" text-anchor="end">TSA</text>
<text transform="translate(70.51 376) rotate(-90)" class="tl" text-anchor="end">WOA</text>
<text transform="translate(80.4 376) rotate(-90)" class="tl" text-anchor="end">GWO</text>
<text transform="translate(90.29 376) rotate(-90)" class="tl" text-anchor="end">TLBO</text>
<text transform="translate(100.18 376) rotate(-90)" class="tl" text-anchor="end">GSA</text>
<text transform="translate(110.07 376) rotate(-90)" class="tl" text-anchor="end">PSO</text>
<text transform="translate(119.96 376) rotate(-90)" class="tl" text-anchor="end">GA</text>
<text x="77.7" y="284.5" class="tt" text-anchor="middle">F19</text>
<text x="77" y="403.7" class="lb" text-anchor="middle">algorithm</text>
<text transform="translate(11.1 330.25) rotate(-90)" class="lb" text-anchor="middle">objective function</text>
<text x="187.7" y="292.85" class="tl" text-anchor="end">-2</text>
<text x="187.7" y="322.15" class="tl" text-anchor="end">-2.5</text>
<text x="187.7" y="351.45" class="tl" text-anchor="end">-3</text>
<text transform="translate(199.04 376) rotate(-90)" class="tl" text-anchor="end">POA</text>
<text transform="translate(209.32 376) rotate(-90)" class="tl" text-anchor="end">MPA</text>
<text transform="translate(219.59 376) rotate(-90)" class="tl" text-anchor="end">TSA</text>
<text transform="translate(229.87 376) rotate(-90)" class="tl" text-anchor="end">WOA</text>
<text transform="translate(240.15 376) rotate(-90)" class="tl" text-anchor="end">GWO</text>
<text transform="translate(250.43 376) rotate(-90)" class="tl" text-anchor="end">TLBO</text>
<text transform="translate(260.71 376) rotate(-90)" class="tl" text-anchor="end">GSA</text>
<text transform="translate(270.98 376) rotate(-90)" class="tl" text-anchor="end">PSO</text>
<text transform="translate(281.26 376) rotate(-90)" class="tl" text-anchor="end">GA</text>
<text x="237.45" y="284.5" class="tt" text-anchor="middle">F20</text>
<text x="236.75" y="403.7" class="lb" text-anchor="middle">algorithm</text>
<text transform="translate(173.1 330.25) rotate(-90)" class="lb" text-anchor="middle">objective function</text>
<text x="347.2" y="295.95" class="tl" text-anchor="end">-2</text>
<text x="347.2" y="312.85" class="tl" text-anchor="end">-4</text>
<text x="347.2" y="329.75" class="tl" text-anchor="end">-6</text>
<text x="347.2" y="346.65" class="tl" text-anchor="end">-8</text>
<text x="347.2" y="363.55" class="tl" text-anchor="end">-10</text>
<text transform="translate(358.65 376) rotate(-90)" class="tl" text-anchor="end">POA</text>
<text transform="translate(369.15 376) rotate(-90)" class="tl" text-anchor="end">MPA</text>
<text transform="translate(379.65 376) rotate(-90)" class="tl" text-anchor="end">TSA</text>
<text transform="translate(390.15 376) rotate(-90)" class="tl" text-anchor="end">WOA</text>
<text transform="translate(400.65 376) rotate(-90)" class="tl" text-anchor="end">GWO</text>
<text transform="translate(411.15 376) rotate(-90)" class="tl" text-anchor="end">TLBO</text>
<text transform="translate(421.65 376) rotate(-90)" class="tl" text-anchor="end">GSA</text>
<text transform="translate(432.15 376) rotate(-90)" class="tl" text-anchor="end">PSO</text>
<text transform="translate(442.65 376) rotate(-90)" class="tl" text-anchor="end">GA</text>
<text x="397.95" y="284.5" class="tt" text-anchor="middle">F21</text>
<text x="397.25" y="403.7" class="lb" text-anchor="middle">algorithm</text>
<text transform="translate(334.4 330.25) rotate(-90)" class="lb" text-anchor="middle">objective function</text>
<text x="23.7" y="430.85" class="tl" text-anchor="end">-2</text>
<text x="23.7" y="445.33" class="tl" text-anchor="end">-4</text>
<text x="23.7" y="459.81" class="tl" text-anchor="end">-6</text>
<text x="23.7" y="474.29" class="tl" text-anchor="end">-8</text>
<text x="23.7" y="488.77" class="tl" text-anchor="end">-10</text>
<text x="23.7" y="503.25" class="tl" text-anchor="end">-12</text>
<text transform="translate(35.18 513) rotate(-90)" class="tl" text-anchor="end">POA</text>
<text transform="translate(45.73 513) rotate(-90)" class="tl" text-anchor="end">MPA</text>
<text transform="translate(56.29 513) rotate(-90)" class="tl" text-anchor="end">TSA</text>
<text transform="translate(66.84 513) rotate(-90)" class="tl" text-anchor="end">WOA</text>
<text transform="translate(77.4 513) rotate(-90)" class="tl" text-anchor="end">GWO</text>
<text transform="translate(87.96 513) rotate(-90)" class="tl" text-anchor="end">TLBO</text>
<text transform="translate(98.51 513) rotate(-90)" class="tl" text-anchor="end">GSA</text>
<text transform="translate(109.07 513) rotate(-90)" class="tl" text-anchor="end">PSO</text>
<text transform="translate(119.62 513) rotate(-90)" class="tl" text-anchor="end">GA</text>
<text x="74.7" y="422" class="tt" text-anchor="middle">F22</text>
<text x="74" y="541.7" class="lb" text-anchor="middle">algorithm</text>
<text transform="translate(10.9 467.5) rotate(-90)" class="lb" text-anchor="middle">objective function</text>
<text x="346.7" y="433.65" class="tl" text-anchor="end">-2</text>
<text x="346.7" y="451.51" class="tl" text-anchor="end">-4</text>
<text x="346.7" y="469.37" class="tl" text-anchor="end">-6</text>
<text x="346.7" y="487.23" class="tl" text-anchor="end">-8</text>
<text x="346.7" y="505.09" class="tl" text-anchor="end">-10</text>
<text transform="translate(358.18 513) rotate(-90)" class="tl" text-anchor="end">POA</text>
<text transform="translate(368.73 513) rotate(-90)" class="tl" text-anchor="end">MPA</text>
<text transform="translate(379.29 513) rotate(-90)" class="tl" text-anchor="end">TSA</text>
<text transform="translate(389.84 513) rotate(-90)" class="tl" text-anchor="end">WOA</text>
<text transform="translate(400.4 513) rotate(-90)" class="tl" text-anchor="end">GWO</text>
<text transform="translate(410.96 513) rotate(-90)" class="tl" text-anchor="end">TLBO</text>
<text transform="translate(421.51 513) rotate(-90)" class="tl" text-anchor="end">GSA</text>
<text transform="translate(432.07 513) rotate(-90)" class="tl" text-anchor="end">PSO</text>
<text transform="translate(442.62 513) rotate(-90)" class="tl" text-anchor="end">GA</text>
<text x="397.7" y="422" class="tt" text-anchor="middle">F23</text>
<text x="397" y="541.7" class="lb" text-anchor="middle">algorithm</text>
<text transform="translate(334.8 467.5) rotate(-90)" class="lb" text-anchor="middle">objective function</text></g>
</svg></body></html>
